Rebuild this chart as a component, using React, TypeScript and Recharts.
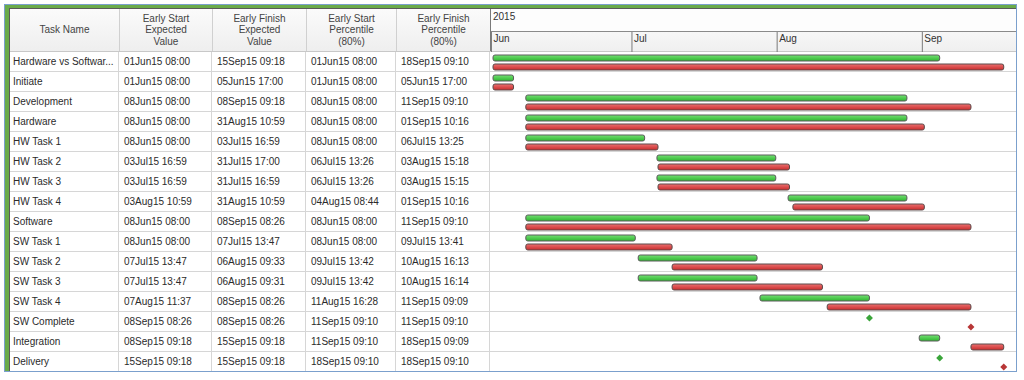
import React from "react";
import { BarChart, Bar, XAxis, YAxis } from "recharts";

// Task rows as listed in the grid.
const taskNames = [
  "Hardware vs Softwar...",
  "Initiate",
  "Development",
  "Hardware",
  "HW Task 1",
  "HW Task 2",
  "HW Task 3",
  "HW Task 4",
  "Software",
  "SW Task 1",
  "SW Task 2",
  "SW Task 3",
  "SW Task 4",
  "SW Complete",
  "Integration",
  "Delivery",
];

const earlyStartExpected = [
  "01Jun15 08:00", "01Jun15 08:00", "08Jun15 08:00", "08Jun15 08:00",
  "08Jun15 08:00", "03Jul15 16:59", "03Jul15 16:59", "03Aug15 10:59",
  "08Jun15 08:00", "08Jun15 08:00", "07Jul15 13:47", "07Jul15 13:47",
  "07Aug15 11:37", "08Sep15 08:26", "08Sep15 09:18", "15Sep15 09:18",
];

const earlyFinishExpected = [
  "15Sep15 09:18", "05Jun15 17:00", "08Sep15 09:18", "31Aug15 10:59",
  "03Jul15 16:59", "31Jul15 17:00", "31Jul15 16:59", "31Aug15 10:59",
  "08Sep15 08:26", "07Jul15 13:47", "06Aug15 09:33", "06Aug15 09:31",
  "08Sep15 08:26", "08Sep15 08:26", "15Sep15 09:18", "15Sep15 09:18",
];

const earlyStartP80 = [
  "01Jun15 08:00", "01Jun15 08:00", "08Jun15 08:00", "08Jun15 08:00",
  "08Jun15 08:00", "06Jul15 13:26", "06Jul15 13:26", "04Aug15 08:44",
  "08Jun15 08:00", "08Jun15 08:00", "09Jul15 13:42", "09Jul15 13:42",
  "11Aug15 16:28", "11Sep15 09:10", "11Sep15 09:10", "18Sep15 09:10",
];

const earlyFinishP80 = [
  "18Sep15 09:10", "05Jun15 17:00", "11Sep15 09:10", "01Sep15 10:16",
  "06Jul15 13:25", "03Aug15 15:18", "03Aug15 15:15", "01Sep15 10:16",
  "11Sep15 09:10", "09Jul15 13:41", "10Aug15 16:13", "10Aug15 16:14",
  "11Sep15 09:09", "11Sep15 09:10", "18Sep15 09:09", "18Sep15 09:10",
];

// Green (planned) bars.
const planStart = [
  "01Jun15 08:00", "01Jun15 08:00", "08Jun15 08:00", "08Jun15 08:00",
  "08Jun15 08:00", "06Jul15 08:00", "06Jul15 08:00", "03Aug15 08:00",
  "08Jun15 08:00", "08Jun15 08:00", "02Jul15 08:00", "02Jul15 08:00",
  "28Jul15 08:00", "20Aug15 17:00", "31Aug15 08:00", "04Sep15 17:00",
];

const planFinish = [
  "04Sep15 17:00", "05Jun15 17:00", "28Aug15 17:00", "28Aug15 17:00",
  "03Jul15 17:00", "31Jul15 17:00", "31Jul15 17:00", "28Aug15 17:00",
  "20Aug15 17:00", "01Jul15 17:00", "27Jul15 17:00", "27Jul15 17:00",
  "20Aug15 17:00", "20Aug15 17:00", "04Sep15 17:00", "04Sep15 17:00",
];

const milestoneTasks = ["SW Complete", "Delivery"];

const yearLabel = "2015";
const monthStarts = ["01Jun15 00:00", "01Jul15 00:00", "01Aug15 00:00", "01Sep15 00:00"];
const monthLabels = ["Jun", "Jul", "Aug", "Sep"];

const columnHeaders = [
  ["Task Name"],
  ["Early Start", "Expected", "Value"],
  ["Early Finish", "Expected", "Value"],
  ["Early Start", "Percentile", "(80%)"],
  ["Early Finish", "Percentile", "(80%)"],
];
const columnWidths = [110, 93, 94, 90, 94];

const MONTHS: Record<string, number> = { Jun: 5, Jul: 6, Aug: 7, Sep: 8 };

// "01Jun15 08:00" -> days since 1 Jun 2015 00:00
const toDay = (s: string) => {
  const d = parseInt(s.slice(0, 2), 10);
  const m = MONTHS[s.slice(2, 5)];
  const hh = parseInt(s.slice(8, 10), 10);
  const mm = parseInt(s.slice(11, 13), 10);
  return (Date.UTC(2015, m, d, hh, mm) - Date.UTC(2015, 5, 1)) / 86400000;
};

const rows = taskNames.map((name, i) => ({
  name,
  milestone: milestoneTasks.includes(name),
  plan: [toDay(planStart[i]), toDay(planFinish[i])],
  p80: [toDay(earlyStartP80[i]), toDay(earlyFinishP80[i])],
}));

const monthTicks = monthStarts.map(toDay);

const FONT = "'Liberation Sans', Arial, sans-serif";

const makeShape = (fillId: string, stroke: string, diamond: string) => (props: any) => {
  const { x, y, width, height, payload } = props;
  if (payload.milestone) {
    const cx = x;
    const cy = y + height / 2;
    const r = 3.5;
    return (
      <path
        d={`M${cx - r},${cy}L${cx},${cy - r}L${cx + r},${cy}L${cx},${cy + r}Z`}
        fill={diamond}
      />
    );
  }
  return (
    <rect
      x={x}
      y={y}
      width={Math.max(width, 0)}
      height={height}
      rx={2}
      ry={2}
      fill={`url(#${fillId})`}
      stroke={stroke}
      strokeWidth={1}
    />
  );
};

const MonthTick = (props: any) => {
  const { x, index } = props;
  return (
    <g>
      <line x1={x} x2={x} y1={22} y2={42} stroke="#7a7a7a" strokeWidth={1} />
      <text x={x + 2} y={32} fontSize={10} fill="#333" fontFamily={FONT}>
        {monthLabels[index]}
      </text>
    </g>
  );
};

const App = () => {
  const colLefts = columnWidths.reduce<number[]>((acc, w, i) => {
    acc.push(i === 0 ? 10 : acc[i - 1] + columnWidths[i - 1]);
    return acc;
  }, []);
  const ganttLeft = 491;
  const ganttWidth = 525;
  const bodyTop = 52;
  const rowH = 20;

  return (
    <div
      style={{
        position: "absolute",
        left: 0,
        top: 0,
        width: 1024,
        height: 380,
        background: "#fff",
        fontFamily: FONT,
        overflow: "hidden",
      }}
    >
      {/* table header background */}
      <div
        style={{
          position: "absolute",
          left: 10,
          top: 9,
          width: 481,
          height: 43,
          background: "linear-gradient(#fbfbfb, #eeeeee)",
        }}
      />
      {/* gantt header: year row and month row */}
      <div style={{ position: "absolute", left: ganttLeft, top: 9, width: ganttWidth, height: 23, background: "#fdfdfd" }} />
      <div style={{ position: "absolute", left: ganttLeft, top: 32, width: ganttWidth, height: 20, background: "linear-gradient(#f7f7f7, #efefef)" }} />
      <div style={{ position: "absolute", left: ganttLeft, top: 31, width: ganttWidth, height: 1, background: "#8a8a8a" }} />
      <div style={{ position: "absolute", left: ganttLeft + 2, top: 11, fontSize: 10, color: "#333" }}>{yearLabel}</div>

      {/* column headers */}
      {columnHeaders.map((lines, i) => (
        <div
          key={i}
          style={{
            position: "absolute",
            left: colLefts[i],
            top: 9,
            width: columnWidths[i] - 1,
            height: 42,
            display: "flex",
            flexDirection: "column",
            justifyContent: "center",
            alignItems: "center",
            fontSize: 10,
            lineHeight: "11.5px",
            color: "#444",
            borderRight: "1px solid #d0d0d0",
          }}
        >
          {lines.map((l) => (
            <div key={l}>{l}</div>
          ))}
        </div>
      ))}
      <div style={{ position: "absolute", left: 490, top: 9, width: 1, height: 43, background: "#7a7a7a" }} />
      <div style={{ position: "absolute", left: 10, top: 51, width: 1006, height: 1, background: "#c8c8c8" }} />

      {/* body rows */}
      {rows.map((r, i) => {
        const cells = [
          r.name,
          earlyStartExpected[i],
          earlyFinishExpected[i],
          earlyStartP80[i],
          earlyFinishP80[i],
        ];
        return (
          <div key={r.name}>
            <div
              style={{
                position: "absolute",
                left: 10,
                top: bodyTop + i * rowH + rowH - 1,
                width: 1006,
                height: 1,
                background: "#d6d6d6",
              }}
            />
            {cells.map((c, j) => (
              <div
                key={j}
                style={{
                  position: "absolute",
                  left: colLefts[j],
                  top: bodyTop + i * rowH,
                  width: columnWidths[j] - 1,
                  height: rowH - 1,
                  lineHeight: `${rowH - 1}px`,
                  fontSize: 10,
                  color: "#2b2b2b",
                  paddingLeft: j === 0 ? 3 : 4,
                  boxSizing: "border-box",
                  whiteSpace: "nowrap",
                  overflow: "hidden",
                  borderRight: "1px solid #d6d6d6",
                }}
              >
                {c}
              </div>
            ))}
          </div>
        );
      })}

      {/* gantt */}
      <div style={{ position: "absolute", left: ganttLeft, top: 10 }}>
        <BarChart
          layout="vertical"
          width={ganttWidth}
          height={362}
          data={rows}
          margin={{ top: 0, right: 0, bottom: 0, left: 0 }}
          barSize={6}
          barGap={3}
          barCategoryGap={0}
        >
          <defs>
            <linearGradient id="gGreen" x1="0" y1="0" x2="0" y2="1">
              <stop offset="0%" stopColor="#74e074" />
              <stop offset="100%" stopColor="#2fb52f" />
            </linearGradient>
            <linearGradient id="gRed" x1="0" y1="0" x2="0" y2="1">
              <stop offset="0%" stopColor="#ec7070" />
              <stop offset="100%" stopColor="#c82c2c" />
            </linearGradient>
          </defs>
          <XAxis
            type="number"
            orientation="top"
            domain={[-0.1, 112]}
            ticks={monthTicks}
            height={42}
            tick={<MonthTick />}
            axisLine={false}
            tickLine={false}
            allowDataOverflow
            interval={0}
          />
          <YAxis type="category" dataKey="name" hide />
          <Bar
            dataKey="plan"
            isAnimationActive={false}
            shape={makeShape("gGreen", "#5c5c5c", "#3aa53a")}
          />
          <Bar
            dataKey="p80"
            isAnimationActive={false}
            shape={makeShape("gRed", "#5c4a4a", "#b83636")}
          />
        </BarChart>
      </div>

      {/* frame */}
      <div style={{ position: "absolute", left: 4, top: 4, width: 1013, height: 368, border: "1px solid #7ba0cd", boxSizing: "border-box" }} />
      <div style={{ position: "absolute", left: 5, top: 5, width: 1011, height: 3, background: "#6aab4a" }} />
      <div style={{ position: "absolute", left: 9, top: 8, width: 1007, height: 1, background: "#5a5a5a" }} />
      <div style={{ position: "absolute", left: 5, top: 5, width: 4, height: 366, background: "#6aab4a" }} />
      <div style={{ position: "absolute", left: 9, top: 8, width: 1, height: 363, background: "#5a5a5a" }} />
    </div>
  );
};

export default App;
